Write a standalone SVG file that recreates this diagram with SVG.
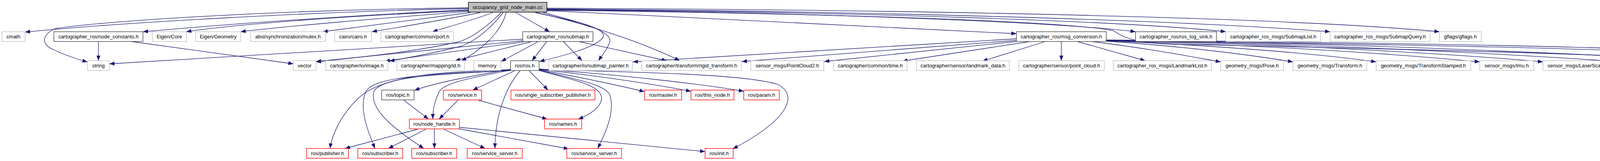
<svg xmlns="http://www.w3.org/2000/svg" width="4808" height="411" viewBox="0 0 4808 411">
<defs>
<marker id="ah" viewBox="0 0 13 10" refX="13" refY="5" markerWidth="13" markerHeight="10" markerUnits="userSpaceOnUse" orient="auto">
<path d="M0,0 L13,5 L0,10 z" fill="#191970"/>
</marker>
<style>
rect{stroke-width:1.4}
.g rect{fill:#fff;stroke:#bfbfbf}
.b rect{fill:#fff;stroke:#404040}
.r rect{fill:#fff;stroke:#ff0000}
.m rect{fill:#bfbfbf;stroke:#000}
text{font-family:"Liberation Sans",Arial,sans-serif;font-size:13px;fill:#000;text-anchor:middle}
#edges path{fill:none;stroke:#191970;stroke-width:1.3;marker-end:url(#ah)}
</style>
</defs>
<rect x="0" y="0" width="4808" height="411" fill="#fff"/>
<g id="edges">
<!-- main to row 2 left -->
<path d="M1199,22 C800,30 300,58 64,82"/>
<path d="M1199,20 C700,25 250,55 141,73 C105,90 105,115 140,128 C165,140 200,152 224,158"/>
<path d="M1199,25 C900,40 600,60 366,81"/>
<path d="M1199,27 C900,40 600,62 477,81"/>
<path d="M1199,29 C1000,45 750,65 616,81"/>
<path d="M1205,32 C1100,45 950,65 826,81"/>
<path d="M1230,32 C1150,48 1050,65 952,81"/>
<path d="M1262,32 C1220,48 1160,65 1107,81"/>
<!-- main to row 3 left -->
<path d="M1283,32 C1240,75 1200,100 1173,107 C1050,135 880,150 809,158"/>
<path d="M1288,32 C1250,80 1210,108 1180,118 C1100,138 1030,150 997,156"/>
<path d="M1296,32 C1280,90 1225,130 1181,156"/>
<!-- main to submap, ros.h, painter, rigid -->
<path d="M1320,32 L1407,81"/>
<path d="M1370,32 C1450,50 1570,70 1540,100 C1515,125 1430,145 1381,157"/>
<path d="M1390,32 C1480,55 1575,80 1560,110 C1552,130 1540,143 1532,155"/>
<path d="M1373,32 C1500,60 1650,110 1740,155"/>
<!-- main to right -->
<path d="M1400,27 L2602,86"/>
<path d="M1400,25 C2000,30 2700,55 2907,81"/>
<path d="M1400,24 C2200,30 2900,55 3138,81"/>
<path d="M1400,23 C2200,28 3000,50 3405,81"/>
<path d="M1400,21 C2400,25 3300,45 3685,81"/>
<path d="M1400,26 C2000,33 2700,50 2850,78 C2880,100 2920,110 3000,113 C3600,125 4200,140 4410,157"/>
<!-- node_constants -->
<path d="M252,106 L252,155"/>
<path d="M336,106 L751,163"/>
<!-- submap -->
<path d="M1338,100 L280,163"/>
<path d="M1338,104 L809,157"/>
<path d="M1345,106 L985,156"/>
<path d="M1362,106 L1165,155"/>
<path d="M1378,106 L1283,157"/>
<path d="M1400,106 L1362,155"/>
<path d="M1442,106 L1490,155"/>
<path d="M1482,106 L1707,155"/>
<!-- msg_conversion -->
<path d="M2602,99 L1620,158"/>
<path d="M2602,103 L1899,157"/>
<path d="M2602,106 L2110,157"/>
<path d="M2637,106 L2310,156"/>
<path d="M2676,106 L2515,156"/>
<path d="M2717,106 L2717,155"/>
<path d="M2758,106 L2932,155"/>
<path d="M2795,106 C2950,125 3050,145 3125,158"/>
<path d="M2832,105 C3050,120 3200,140 3310,158"/>
<path d="M2832,104 C3150,118 3400,140 3523,158"/>
<path d="M2832,104 C3250,115 3600,140 3788,158"/>
<path d="M2832,103 C3300,112 3750,140 3950,158"/>
<path d="M2832,103 C3350,110 3900,140 4152,158"/>
<path d="M2832,102 C3400,108 4100,140 4410,157"/>
<!-- ros_log_sink -->
<path d="M3114,107 C3700,116 4400,128 4622,158"/>
<path d="M3114,105 C3700,112 4450,122 4700,158"/>
<!-- ros.h -->
<path d="M1307,177 C1200,195 1100,215 1061,231"/>
<path d="M1317,181 L1210,230"/>
<path d="M1355,181 L1403,230"/>
<path d="M1380,178 C1500,200 1600,222 1650,234"/>
<path d="M1380,177 C1550,195 1700,220 1769,233"/>
<path d="M1380,176 C1600,192 1800,215 1904,233"/>
<path d="M1380,180 C1450,200 1540,215 1540,250 C1540,275 1505,295 1480,304"/>
<path d="M1380,179 C1460,200 1555,215 1562,245 C1575,290 1545,350 1530,379"/>
<path d="M1380,178 C1600,183 1900,188 1990,215 C2050,245 2010,310 1876,380"/>
<path d="M1331,181 C1290,230 1268,300 1267,379"/>
<path d="M1307,179 C1200,200 1135,212 1124,235 C1112,260 1108,280 1108,304"/>
<path d="M1307,178 C1150,182 1000,190 930,240 C880,280 850,340 845,379"/>
<path d="M1307,179 C1100,190 960,195 937,233 C920,270 935,320 960,379"/>
<path d="M1307,180 C1120,190 980,195 957,233 C945,280 1010,330 1085,379"/>
<!-- topic, service -->
<path d="M1034,256 L1097,304"/>
<path d="M1172,256 L1124,304"/>
<path d="M1225,256 L1401,304"/>
<!-- node_handle -->
<path d="M1069,330 L883,379"/>
<path d="M1090,330 L994,379"/>
<path d="M1112,330 L1112,379"/>
<path d="M1136,330 L1242,379"/>
<path d="M1176,329 L1456,380"/>
<path d="M1176,325 L1805,387"/>
</g>
<g id="n_main" class="m"><rect x="1199" y="6" width="201" height="25"/><text x="1299.5" y="23">occupancy_grid_node_main.cc</text></g>
<g id="n_cmath" class="g"><rect x="5" y="81" width="59" height="25"/><text x="34.5" y="98">cmath</text></g>
<g id="n_node_constants" class="b"><rect x="138" y="81" width="228" height="25"/><text x="252" y="98">cartographer_ros/node_constants.h</text></g>
<g id="n_eigen_core" class="g"><rect x="390" y="81" width="87" height="25"/><text x="433.5" y="98">Eigen/Core</text></g>
<g id="n_eigen_geometry" class="g"><rect x="501" y="81" width="115" height="25"/><text x="558.5" y="98">Eigen/Geometry</text></g>
<g id="n_mutex" class="g"><rect x="641" y="81" width="192" height="25"/><text x="737" y="98">absl/synchronization/mutex.h</text></g>
<g id="n_cairo" class="g"><rect x="857" y="81" width="94" height="25"/><text x="904" y="98">cairo/cairo.h</text></g>
<g id="n_port" class="g"><rect x="975" y="81" width="186" height="25"/><text x="1068" y="98">cartographer/common/port.h</text></g>
<g id="n_submap" class="b"><rect x="1338" y="81" width="180" height="25"/><text x="1428" y="98">cartographer_ros/submap.h</text></g>
<g id="n_msg_conversion" class="b"><rect x="2602" y="81" width="230" height="25"/><text x="2717" y="98">cartographer_ros/msg_conversion.h</text></g>
<g id="n_ros_log_sink" class="b"><rect x="2907" y="81" width="207" height="25"/><text x="3010.5" y="98">cartographer_ros/ros_log_sink.h</text></g>
<g id="n_submaplist" class="g"><rect x="3138" y="81" width="243" height="25"/><text x="3259.5" y="98">cartographer_ros_msgs/SubmapList.h</text></g>
<g id="n_submapquery" class="g"><rect x="3405" y="81" width="256" height="25"/><text x="3533" y="98">cartographer_ros_msgs/SubmapQuery.h</text></g>
<g id="n_gflags" class="g"><rect x="3685" y="81" width="107" height="25"/><text x="3738.5" y="98">gflags/gflags.h</text></g>
<g id="n_string" class="g"><rect x="224" y="155" width="56" height="25"/><text x="252" y="172">string</text></g>
<g id="n_vector" class="g"><rect x="751" y="155" width="58" height="25"/><text x="780" y="172">vector</text></g>
<g id="n_io_image" class="g"><rect x="834" y="155" width="159" height="25"/><text x="913.5" y="172">cartographer/io/image.h</text></g>
<g id="n_mapping_id" class="g"><rect x="1016" y="155" width="173" height="25"/><text x="1102.5" y="172">cartographer/mapping/id.h</text></g>
<g id="n_memory" class="g"><rect x="1213" y="155" width="69" height="25"/><text x="1247.5" y="172">memory</text></g>
<g id="n_ros_h" class="b"><rect x="1307" y="155" width="73" height="25"/><text x="1343.5" y="172">ros/ros.h</text></g>
<g id="n_submap_painter" class="g"><rect x="1405" y="155" width="214" height="25"/><text x="1512" y="172">cartographer/io/submap_painter.h</text></g>
<g id="n_rigid_transform" class="g"><rect x="1643" y="155" width="255" height="25"/><text x="1770.5" y="172">cartographer/transform/rigid_transform.h</text></g>
<g id="n_pointcloud2" class="g"><rect x="1922" y="155" width="187" height="25"/><text x="2015.5" y="172">sensor_msgs/PointCloud2.h</text></g>
<g id="n_common_time" class="g"><rect x="2134" y="155" width="188" height="25"/><text x="2228" y="172">cartographer/common/time.h</text></g>
<g id="n_landmark_data" class="g"><rect x="2346" y="155" width="238" height="25"/><text x="2465" y="172">cartographer/sensor/landmark_data.h</text></g>
<g id="n_point_cloud" class="g"><rect x="2608" y="155" width="219" height="25"/><text x="2717.5" y="172">cartographer/sensor/point_cloud.h</text></g>
<g id="n_landmarklist" class="g"><rect x="2850" y="155" width="251" height="25"/><text x="2975.5" y="172">cartographer_ros_msgs/LandmarkList.h</text></g>
<g id="n_pose" class="g"><rect x="3125" y="155" width="161" height="25"/><text x="3205.5" y="172">geometry_msgs/Pose.h</text></g>
<g id="n_transform" class="g"><rect x="3310" y="155" width="189" height="25"/><text x="3404.5" y="172">geometry_msgs/Transform.h</text></g>
<g id="n_transformstamped" class="g"><rect x="3523" y="155" width="242" height="25"/><text x="3644" y="172">geometry_msgs/TransformStamped.h</text></g>
<g id="n_imu" class="g"><rect x="3788" y="155" width="138" height="25"/><text x="3857" y="172">sensor_msgs/Imu.h</text></g>
<g id="n_laserscan" class="g"><rect x="3950" y="155" width="177" height="25"/><text x="4038.5" y="172">sensor_msgs/LaserScan.h</text></g>
<g id="n_multiecho" class="g"><rect x="4152" y="155" width="234" height="25"/><text x="4269" y="172">sensor_msgs/MultiEchoLaserScan.h</text></g>
<g id="n_occupancygrid" class="g"><rect x="4410" y="155" width="187" height="25"/><text x="4503.5" y="172">nav_msgs/OccupancyGrid.h</text></g>
<g id="n_ctime" class="g"><rect x="4622" y="155" width="55" height="25"/><text x="4649.5" y="172">ctime</text></g>
<g id="n_logging" class="g"><rect x="4700" y="155" width="104" height="25"/><text x="4752" y="172">glog/logging.h</text></g>
<g id="n_topic" class="b"><rect x="977" y="230" width="83" height="25"/><text x="1018.5" y="247">ros/topic.h</text></g>
<g id="n_service" class="r"><rect x="1135" y="230" width="98" height="25"/><text x="1184" y="247">ros/service.h</text></g>
<g id="n_single_sub_pub" class="r"><rect x="1308" y="230" width="215" height="25"/><text x="1415.5" y="247">ros/single_subscriber_publisher.h</text></g>
<g id="n_master" class="r"><rect x="1650" y="230" width="95" height="25"/><text x="1697.5" y="247">ros/master.h</text></g>
<g id="n_this_node" class="r"><rect x="1769" y="230" width="110" height="25"/><text x="1824" y="247">ros/this_node.h</text></g>
<g id="n_param" class="r"><rect x="1904" y="230" width="91" height="25"/><text x="1949.5" y="247">ros/param.h</text></g>
<g id="n_node_handle" class="r"><rect x="1048" y="304" width="128" height="25"/><text x="1112" y="321">ros/node_handle.h</text></g>
<g id="n_names" class="r"><rect x="1394" y="304" width="95" height="25"/><text x="1441.5" y="321">ros/names.h</text></g>
<g id="n_publisher" class="r"><rect x="785" y="379" width="107" height="25"/><text x="838.5" y="396">ros/publisher.h</text></g>
<g id="n_subscriber1" class="r"><rect x="916" y="379" width="115" height="25"/><text x="973.5" y="396">ros/subscriber.h</text></g>
<g id="n_subscriber2" class="r"><rect x="1054" y="379" width="115" height="25"/><text x="1111.5" y="396">ros/subscriber.h</text></g>
<g id="n_service_server1" class="r"><rect x="1196" y="379" width="141" height="25"/><text x="1266.5" y="396">ros/service_server.h</text></g>
<g id="n_service_server2" class="r"><rect x="1451" y="379" width="140" height="25"/><text x="1521" y="396">ros/service_server.h</text></g>
<g id="n_init" class="r"><rect x="1805" y="379" width="72" height="25"/><text x="1841" y="396">ros/init.h</text></g>
</svg>
